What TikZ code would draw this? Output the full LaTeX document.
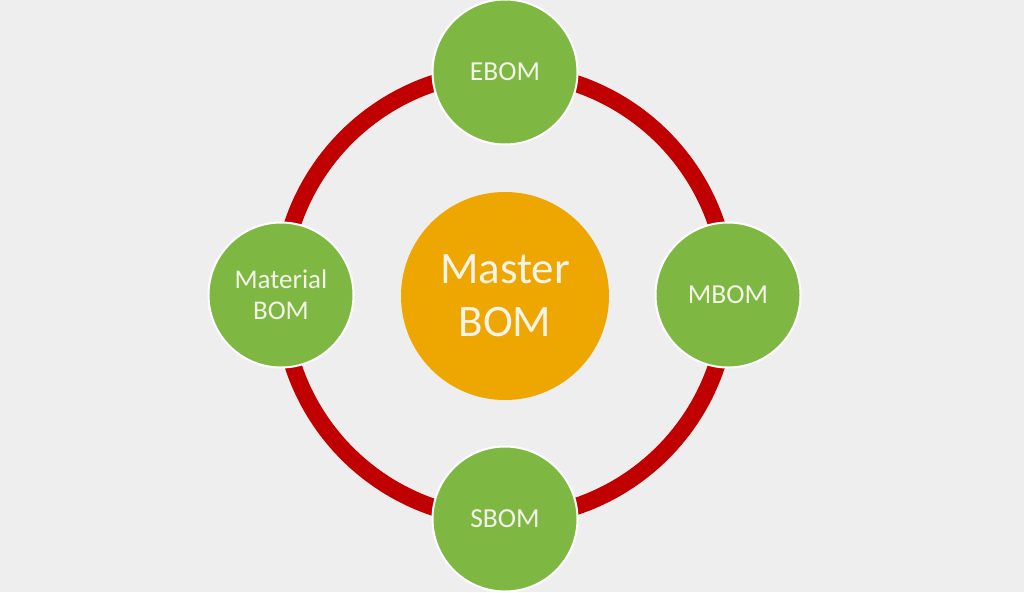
\documentclass[tikz,border=0pt]{standalone}
\usepackage{fontspec}
\setmainfont{Carlito}
\usetikzlibrary{backgrounds}
\definecolor{bg}{HTML}{EFEEEE}
\definecolor{ringred}{HTML}{C00000}
\definecolor{leaf}{HTML}{7EB843}
\definecolor{gold}{HTML}{EDA700}
\definecolor{txt}{HTML}{F3F3EA}
\begin{document}
\begin{tikzpicture}[x=1pt,y=-1pt,
  leafnode/.style={circle, fill=leaf, draw=white, line width=2pt, minimum size=145pt, inner sep=0pt, text=txt, font=\fontsize{27.5}{31}\selectfont, align=center},
  hub/.style={circle, fill=gold, minimum size=208pt, inner sep=0pt, text=txt, font=\fontsize{45}{53}\selectfont, align=center},
  ringarc/.style={draw=ringred, line width=17pt}]
\useasboundingbox (0,0) rectangle (1024,592);
\node[hub] (master) at (505,296) {Master\\BOM};
\node[leafnode] (ebom) at (505,72) {EBOM};
\node[leafnode] (mbom) at (728,295) {MBOM};
\node[leafnode] (sbom) at (505,519) {SBOM};
\node[leafnode, font=\fontsize{27}{31}\selectfont] (mat) at (281,295) {Material\\BOM};
\begin{scope}[on background layer]
\fill[bg] (0,0) rectangle (1024,592);
\draw[ringarc] (ebom.center) arc[start angle=270, end angle=360, radius=223];
\draw[ringarc] (mbom.center) arc[start angle=0, end angle=90, radius=223];
\draw[ringarc] (sbom.center) arc[start angle=90, end angle=180, radius=223];
\draw[ringarc] (mat.center) arc[start angle=180, end angle=270, radius=223];
\end{scope}
\end{tikzpicture}
\end{document}
